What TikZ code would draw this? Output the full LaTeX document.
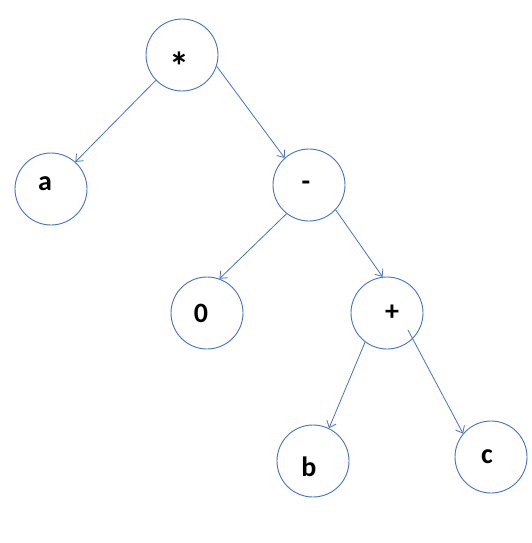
\documentclass[tikz,border=0pt]{standalone}
\usepackage{fontspec}
\setmainfont{Carlito}
\usetikzlibrary{arrows.meta}
\definecolor{edgeblue}{RGB}{68,114,196}
\begin{document}
\begin{tikzpicture}[x=1pt,y=-1pt,
  vertex/.style={circle,draw=edgeblue,line width=0.9pt,minimum size=72pt,inner sep=0pt},
  symb/.style={font=\fontsize{28}{30}\selectfont\bfseries,inner sep=0pt},
  link/.style={draw=edgeblue,line width=0.8pt,-{Straight Barb[length=6pt,width=10pt]}}]
\useasboundingbox (0,0) rectangle (532,543);

% The circles of the tree
\node[vertex] (times) at (182,55) {};
\node[vertex] (a) at (51,189) {};
\node[vertex] (minus) at (309,185) {};
\node[vertex] (zero) at (207,313) {};
\node[vertex] (plus) at (387,313) {};
\node[vertex] (b) at (313,461) {};
\node[vertex] (c) at (491,457) {};

% The symbols, set a little off the centre
\node[symb,font=\fontsize{40}{42}\selectfont\bfseries] (times-s) at (179,66) {*};
\node[symb] (a-s) at (45,184) {a};
\node[symb] (minus-s) at (306,186) {-};
\node[symb] (zero-s) at (201,313) {0};
\node[symb] (plus-s) at (392,313) {+};
\node[symb] (b-s) at (309,467) {b};
\node[symb] (c-s) at (487,457) {c};

% The edge to c starts inside the + circle
\coordinate (plus-c) at (408,330);

% The edges, from parent to child
\draw[link] (times.224) -- (a.48);
\draw[link] (times.-18) -- (minus.132);
\draw[link] (minus.232) -- (zero.70);
\draw[link] (minus.-43) -- (plus.97);
\draw[link] (plus.233) -- (b.64);
\draw[link] (plus-c) -- (c.140);

\end{tikzpicture}
\end{document}
